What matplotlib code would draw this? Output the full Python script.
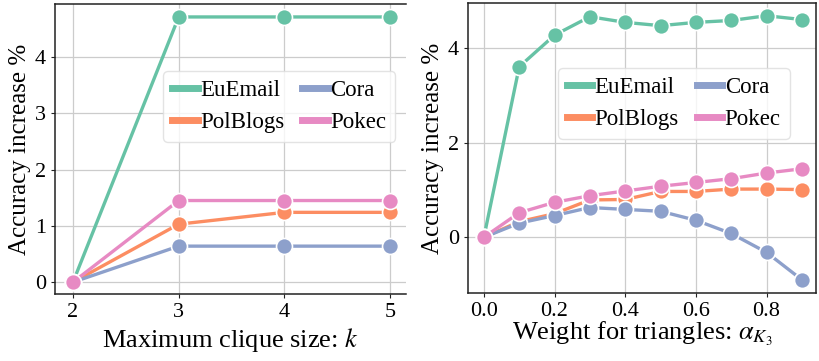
import matplotlib.pyplot as plt
from matplotlib.lines import Line2D

plt.rcParams['font.family'] = ['Liberation Serif', 'DejaVu Serif']
plt.rcParams['mathtext.fontset'] = 'stix'

names = ['EuEmail', 'PolBlogs', 'Cora', 'Pokec']
colors = ['#66c2a5', '#fc8d62', '#8da0cb', '#e78ac3']

# left: maximum clique size
k_vals = [2, 3, 4, 5]
k_data = {
    'EuEmail': [0, 4.71, 4.71, 4.71],
    'PolBlogs': [0, 1.03, 1.24, 1.24],
    'Cora': [0, 0.64, 0.64, 0.64],
    'Pokec': [0, 1.45, 1.45, 1.45],
}

# right: weight for triangles
alpha_vals = [0.0, 0.1, 0.2, 0.3, 0.4, 0.5, 0.6, 0.7, 0.8, 0.9]
alpha_data = {
    'EuEmail': [0, 3.61, 4.28, 4.67, 4.55, 4.48, 4.55, 4.59, 4.69, 4.61],
    'PolBlogs': [0, 0.33, 0.50, 0.79, 0.80, 0.97, 0.97, 1.02, 1.02, 1.01],
    'Cora': [0, 0.30, 0.46, 0.63, 0.59, 0.55, 0.36, 0.08, -0.32, -0.90],
    'Pokec': [0, 0.52, 0.74, 0.88, 0.98, 1.08, 1.16, 1.24, 1.36, 1.45],
}

fig = plt.figure(figsize=(8.2, 3.61), dpi=100)
ax1 = fig.add_axes([55 / 820, 67 / 361, 351 / 820, 290 / 361])
ax2 = fig.add_axes([468 / 820, 68 / 361, 348 / 820, 290 / 361])


def draw(ax, xs, data):
    for name, c in zip(names, colors):
        ax.plot(xs, data[name], color=c, lw=2.4, marker='o', ms=11.5,
                mec='white', mew=1.2, zorder=3)
    ax.grid(True, color='#cccccc', lw=0.9)
    ax.set_axisbelow(True)
    for s in ax.spines.values():
        s.set_color('#222222')
        s.set_linewidth(1.1)
    ax.tick_params(labelsize=16, length=3, color='#222222')
    ax.set_ylabel('Accuracy increase %', fontsize=18, labelpad=3)


draw(ax1, k_vals, k_data)
ax1.set_xlim(1.83, 5.15)
ax1.set_ylim(-0.21, 4.94)
ax1.set_xticks(k_vals)
ax1.set_yticks([0, 1, 2, 3, 4])
ax1.spines['right'].set_visible(False)
ax1.set_xlabel('Maximum clique size: $k$', fontsize=19, labelpad=3)

draw(ax2, alpha_vals, alpha_data)
ax2.set_xlim(-0.045, 0.94)
ax2.set_ylim(-1.18, 4.96)
ax2.set_xticks([0.0, 0.2, 0.4, 0.6, 0.8])
ax2.set_yticks([0, 2, 4])
ax2.set_xlabel(r'Weight for triangles: $\alpha_{K_3}$', fontsize=19, labelpad=-1)

handles = [Line2D([], [], color=c, lw=5) for c in colors]
for ax, anchor in [(ax1, (0.969, 0.769)), (ax2, (0.925, 0.776))]:
    leg = ax.legend(handles, names, ncol=2, loc='upper right', bbox_to_anchor=anchor,
                    borderaxespad=0, fontsize=16.5, handlelength=1.1, handletextpad=0.1,
                    columnspacing=0.8, labelspacing=0.45, borderpad=0.4,
                    framealpha=0.8, fancybox=True)
    leg.get_frame().set_edgecolor('#dddddd')

fig.savefig('out.png', dpi=100)
